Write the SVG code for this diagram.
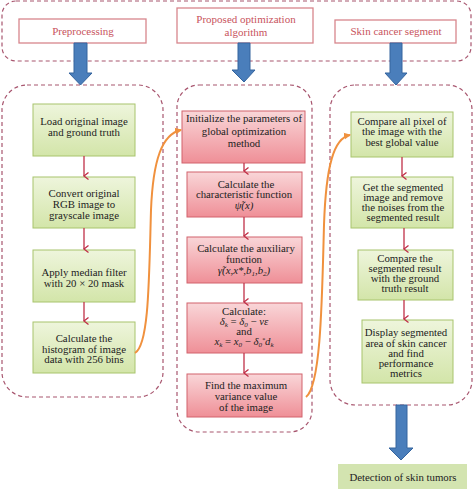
<svg xmlns="http://www.w3.org/2000/svg" width="474" height="489" viewBox="0 0 474 489">
<defs>
<linearGradient id="gG" x1="0" y1="0" x2="0" y2="1"><stop offset="0" stop-color="#eef5dc"/><stop offset="1" stop-color="#d3e5a9"/></linearGradient>
<linearGradient id="gP" x1="0" y1="0" x2="0" y2="1"><stop offset="0" stop-color="#f9d6d8"/><stop offset="1" stop-color="#ef8f97"/></linearGradient>
<marker id="ra" markerWidth="8" markerHeight="8" refX="4" refY="6" orient="auto-start-reverse" markerUnits="userSpaceOnUse" viewBox="0 0 8 8">
<polyline points="0.5,1.5 4,6 7.5,1.5" fill="none" stroke="#c03048" stroke-width="1.3"/>
</marker>
<marker id="oa" markerWidth="8" markerHeight="8" refX="6" refY="4" orient="auto" markerUnits="userSpaceOnUse" viewBox="0 0 8 8">
<path d="M0,0.5 L7,4 L0,7.5 Z" fill="#f0913e"/>
</marker>
</defs>
<style>
.cont{fill:none;stroke:#a8566f;stroke-width:1.2;stroke-dasharray:4 3}
.hdr{fill:#fff;stroke:#d7868d;stroke-width:1.3}
.ht{font-family:"Liberation Serif",serif;font-size:11px;fill:#c8535d;text-anchor:middle}
.g{fill:url(#gG);stroke:#a8c46c;stroke-width:1}
.p{fill:url(#gP);stroke:#d2636d;stroke-width:1}
.t{font-family:"Liberation Serif",serif;font-size:10.8px;fill:#222;text-anchor:middle}
.ba{fill:#4a7ebb;stroke:#34649e;stroke-width:1}
.ra{stroke:#c03048;stroke-width:1.3;fill:none;marker-end:url(#ra)}
.oc{stroke:#f0913e;stroke-width:2;fill:none;marker-end:url(#oa)}
.i{font-style:italic}
</style>

<g id="containers">
<rect class="cont" x="2" y="1" width="469" height="60" rx="14"/>
<rect class="cont" x="2" y="85" width="161" height="312" rx="25"/>
<rect class="cont" x="177" y="85" width="135" height="347" rx="22"/>
<rect class="cont" x="330" y="85" width="142" height="320" rx="25"/>
</g>

<g id="h1"><rect class="hdr" x="19" y="19" width="127" height="24"/><text class="ht" x="83" y="35">Preprocessing</text></g>
<g id="h2"><rect class="hdr" x="177" y="8" width="136" height="35"/><text class="ht" x="246" y="23">Proposed optimization</text><text class="ht" x="246" y="36">algorithm</text></g>
<g id="h3"><rect class="hdr" x="335" y="20" width="121" height="23"/><text class="ht" x="396" y="35">Skin cancer segment</text></g>

<g id="L1"><rect class="g" x="33" y="104" width="102" height="52"/><text class="t"><tspan x="84" y="125">Load original image</tspan><tspan x="84" y="136">and ground truth</tspan></text></g>
<g id="L2"><rect class="g" x="33" y="177" width="102" height="51"/><text class="t"><tspan x="84" y="197">Convert original</tspan><tspan x="84" y="208">RGB image to</tspan><tspan x="84" y="219">grayscale image</tspan></text></g>
<g id="L3"><rect class="g" x="33" y="250" width="102" height="52"/><text class="t"><tspan x="84" y="276">Apply median filter</tspan><tspan x="84" y="287">with 20 × 20 mask</tspan></text></g>
<g id="L4"><rect class="g" x="33" y="322" width="102" height="51"/><text class="t"><tspan x="84" y="342">Calculate the</tspan><tspan x="84" y="352.5">histogram of image</tspan><tspan x="84" y="363">data with 256 bins</tspan></text></g>

<g id="M1"><rect class="p" x="182" y="111" width="123" height="52"/><text class="t"><tspan x="244" y="122">Initialize the parameters of</tspan><tspan x="244" y="135">global optimization</tspan><tspan x="244" y="147">method</tspan></text></g>
<g id="M2"><rect class="p" x="187" y="172" width="115" height="45"/><text class="t"><tspan x="246" y="188">Calculate the</tspan><tspan x="244" y="198">characteristic function</tspan><tspan x="244" y="209" class="i">ψ̃(x)</tspan></text></g>
<g id="M3"><rect class="p" x="187" y="237" width="115" height="46"/><text class="t"><tspan x="246" y="252">Calculate the auxiliary</tspan><tspan x="244" y="263">function</tspan><tspan x="244" y="274" class="i">γ̃(x,x*,b<tspan font-size="7" dy="1.5">1</tspan><tspan dy="-1.5">,b</tspan><tspan font-size="7" dy="1.5">2</tspan><tspan dy="-1.5">)</tspan></tspan></text></g>
<g id="M4"><rect class="p" x="187" y="303" width="115" height="50"/>
<text class="t" x="244" y="315">Calculate:</text>
<text class="t i" x="244" y="325">δ<tspan font-size="7" dy="1.5">k</tspan><tspan dy="-1.5" font-style="normal"> = </tspan>δ<tspan font-size="7" dy="1.5">0</tspan><tspan dy="-1.5" font-style="normal"> − </tspan>νε</text>
<text class="t" x="244" y="334.5">and</text>
<text class="t i" x="244" y="345">x<tspan font-size="7" dy="1.5">k</tspan><tspan dy="-1.5" font-style="normal"> = </tspan>x<tspan font-size="7" dy="1.5">0</tspan><tspan dy="-1.5" font-style="normal"> − </tspan>δ<tspan font-size="7" dy="1.5">0</tspan><tspan font-size="6" dy="-5">*</tspan><tspan dy="3.5">d</tspan><tspan font-size="7" dy="1.5">k</tspan></text>
</g>
<g id="M5"><rect class="p" x="187" y="374" width="115" height="43"/><text class="t"><tspan x="246" y="389">Find the maximum</tspan><tspan x="246" y="400">variance value</tspan><tspan x="246" y="411">of the image</tspan></text></g>

<g id="R1"><rect class="g" x="351" y="112" width="102" height="45"/><text class="t"><tspan x="402" y="125">Compare all pixel of</tspan><tspan x="402" y="135">the image with the</tspan><tspan x="402" y="146">best global value</tspan></text></g>
<g id="R2"><rect class="g" x="351" y="177" width="102" height="51"/><text class="t"><tspan x="403" y="191">Get the segmented</tspan><tspan x="403" y="201">image and remove</tspan><tspan x="403" y="211">the noises from the</tspan><tspan x="403" y="221">segmented result</tspan></text></g>
<g id="R3"><rect class="g" x="358" y="250" width="95" height="50"/><text class="t"><tspan x="405" y="262">Compare the</tspan><tspan x="405" y="272">segmented result</tspan><tspan x="405" y="282">with the ground</tspan><tspan x="405" y="292">truth result</tspan></text></g>
<g id="R4"><rect class="g" x="362" y="320" width="91" height="63"/><text class="t"><tspan x="406" y="336">Display segmented</tspan><tspan x="406" y="346.5">area of skin cancer</tspan><tspan x="406" y="357">and find</tspan><tspan x="406" y="367">performance</tspan><tspan x="406" y="377">metrics</tspan></text></g>

<g id="D"><rect x="338" y="464" width="129" height="25" fill="#d3e4b0"/><text class="t" x="403" y="481">Detection of skin tumors</text></g>

<g id="connectors">
<polygon class="ba" points="74,43 87,43 87,73 92,73 80.5,85 69,73 74,73"/>
<polygon class="ba" points="238,43 250,43 250,70 255,70 244,82 232,70 238,70"/>
<polygon class="ba" points="390,43 402,43 402,73 407,73 396,85 385,73 390,73"/>
<polygon class="ba" points="396,405 407,405 407,448 413,448 401,460 389,448 396,448"/>
<line class="ra" x1="84" y1="156" x2="84" y2="176"/>
<line class="ra" x1="84" y1="228" x2="84" y2="249"/>
<line class="ra" x1="84" y1="302" x2="84" y2="321"/>
<line class="ra" x1="244" y1="163" x2="244" y2="171"/>
<line class="ra" x1="244" y1="217" x2="244" y2="236"/>
<line class="ra" x1="244" y1="283" x2="244" y2="302"/>
<line class="ra" x1="244" y1="353" x2="244" y2="373"/>
<line class="ra" x1="402" y1="157" x2="402" y2="176"/>
<line class="ra" x1="404" y1="228" x2="404" y2="249"/>
<line class="ra" x1="404" y1="300" x2="404" y2="319"/>
<path class="oc" d="M135,353 C149,345 149,280 151,210 C153,160 162,134 181,130"/>
<path class="oc" d="M306,397 C321,385 322,300 324,225 C326,165 334,138 350,135"/>
</g>
</svg>
